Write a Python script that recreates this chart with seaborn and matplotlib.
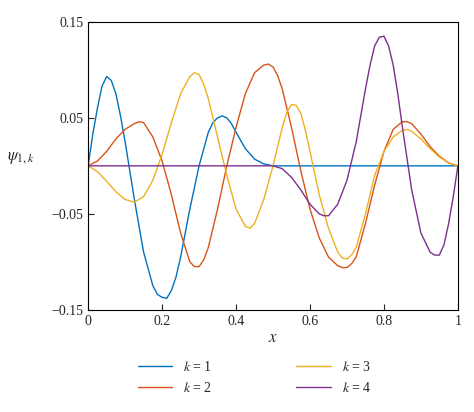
import numpy as np
import pandas as pd
import seaborn as sns
import matplotlib.pyplot as plt

x = list(np.round(np.arange(41) * 0.025, 4))
psi1 = [0, 0.06, 0.093, 0.075, 0.025, -0.035, -0.09, -0.125, -0.137, -0.13, -0.095,
        -0.045, 0.0, 0.035, 0.05, 0.05, 0.035, 0.018, 0.007, 0.002, 0] + [0] * 20
psi2 = [0, 0.005, 0.015, 0.028, 0.038, 0.044, 0.045, 0.03, 0.005, -0.03, -0.07,
        -0.1, -0.105, -0.085, -0.045, 0.0, 0.04, 0.075, 0.097, 0.105, 0.103,
        0.08, 0.04, -0.005, -0.045, -0.075, -0.095, -0.104, -0.106, -0.095, -0.06,
        -0.02, 0.015, 0.038, 0.046, 0.044, 0.033, 0.02, 0.01, 0.003, 0]
psi3 = [0, -0.006, -0.016, -0.027, -0.035, -0.038, -0.032, -0.015, 0.012, 0.045, 0.075,
        0.093, 0.095, 0.07, 0.03, -0.01, -0.045, -0.063, -0.06, -0.035, 0.0,
        0.04, 0.064, 0.055, 0.015, -0.03, -0.065, -0.09, -0.097, -0.085, -0.05,
        -0.01, 0.015, 0.03, 0.037, 0.036, 0.028, 0.018, 0.009, 0.003, 0]
psi4 = [0] * 21 + [-0.003, -0.012, -0.025, -0.04, -0.05, -0.052, -0.04, -0.015, 0.025,
                   0.08, 0.125, 0.135, 0.105, 0.04, -0.025, -0.07, -0.09, -0.093, -0.06, 0]

# extra readings near the sharp turns
extra1 = {0.0125: 0.033, 0.0375: 0.083, 0.0625: 0.089, 0.0875: 0.052, 0.1875: -0.134,
          0.2125: -0.138, 0.2375: -0.116, 0.3375: 0.045, 0.3625: 0.052, 0.3875: 0.044}
extra2 = {0.1375: 0.046, 0.2875: -0.105, 0.3125: -0.098, 0.4875: 0.106, 0.5125: 0.094,
          0.6875: -0.106, 0.7125: -0.102, 0.8625: 0.046}
extra3 = {0.2875: 0.097, 0.3125: 0.085, 0.4375: -0.065, 0.5375: 0.056, 0.5625: 0.063,
          0.5875: 0.037, 0.6875: -0.096, 0.7125: -0.093, 0.8625: 0.038}
extra4 = {0.6375: -0.052, 0.7625: 0.105, 0.7875: 0.134, 0.8125: 0.125, 0.8375: 0.075,
          0.9375: -0.093, 0.9625: -0.082, 0.9875: -0.032}

labels = ['$k$ = 1', '$k$ = 2', '$k$ = 3', '$k$ = 4']
frames = []
for s, ex, lab in zip([psi1, psi2, psi3, psi4], [extra1, extra2, extra3, extra4], labels):
    d = pd.DataFrame({'x': x + list(ex.keys()), 'y': list(s) + list(ex.values())})
    d['k'] = lab
    frames.append(d.sort_values('x'))
df = pd.concat(frames)

sns.set_style('white')
plt.rcParams['font.family'] = ['Liberation Serif', 'DejaVu Serif']
plt.rcParams['mathtext.fontset'] = 'stix'

fig = plt.figure(figsize=(4.74, 4.12), dpi=100)
ax = fig.add_axes([0.186, 0.248, 0.78, 0.699])
colors = ['#0072BD', '#D95319', '#EDB120', '#7E2F8E']
sns.lineplot(data=df, x='x', y='y', hue='k', palette=colors, ax=ax, linewidth=1.0,
             sort=True, estimator=None)
ax.set_xlim(0, 1)
ax.set_ylim(-0.15, 0.15)
ax.set_xticks([0, 0.2, 0.4, 0.6, 0.8, 1])
ax.set_xticklabels(['0', '0.2', '0.4', '0.6', '0.8', '1'])
ax.set_yticks([-0.15, -0.05, 0.05, 0.15])
ax.set_yticklabels(['−0.15', '−0.05', '0.05', '0.15'])
ax.tick_params(direction='in', length=4, labelsize=10, left=True, bottom=True)
for s in ax.spines.values():
    s.set_color('black')
    s.set_linewidth(0.8)
ax.set_xlabel('$x$', fontsize=12, labelpad=2)
ax.set_ylabel(r'$\psi_{1,k}$', fontsize=12, rotation=0, labelpad=22)
ax.legend(loc='upper center', bbox_to_anchor=(0.45, -0.13), ncol=2, frameon=False,
          fontsize=10, columnspacing=6, handlelength=2.5)
fig.savefig('out.png', dpi=100)
